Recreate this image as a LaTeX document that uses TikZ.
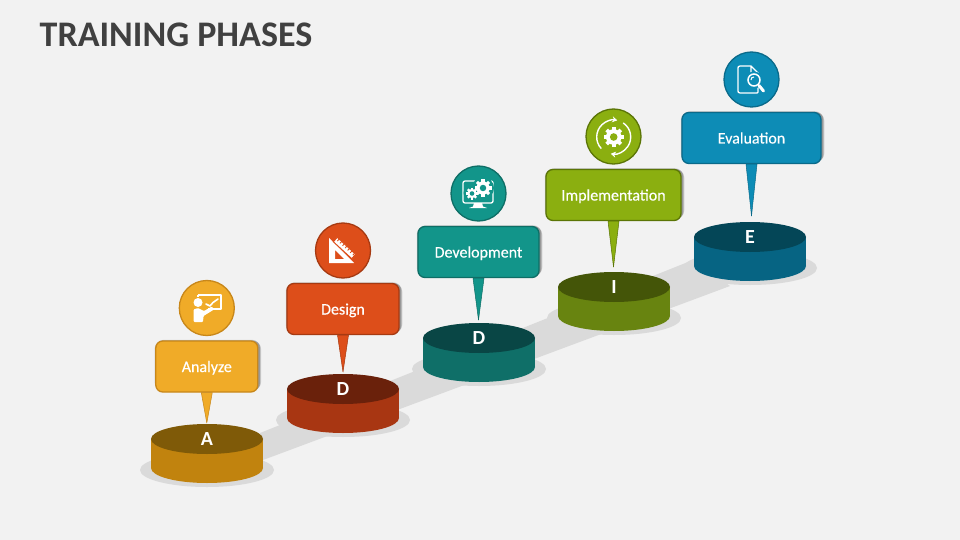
\documentclass[tikz,border=0pt]{standalone}
\usepackage{fontspec}
\setmainfont{Carlito}
\newfontfamily\boxfont[FakeBold=0.35]{Carlito}
\usetikzlibrary{shapes.geometric,arrows.meta,calc}
\definecolor{pagebg}{HTML}{F2F2F2}
\definecolor{bandgrey}{HTML}{DADADA}
\definecolor{titlegrey}{HTML}{404040}
\definecolor{Afill}{HTML}{F0AB28}\definecolor{Aedge}{HTML}{C8871A}\definecolor{Aside}{HTML}{C1830E}\definecolor{Atop}{HTML}{7F5A08}
\definecolor{Bfill}{HTML}{DD4E1A}\definecolor{Bedge}{HTML}{A63A12}\definecolor{Bside}{HTML}{A83612}\definecolor{Btop}{HTML}{6A210B}
\definecolor{Cfill}{HTML}{12958A}\definecolor{Cedge}{HTML}{0E6E66}\definecolor{Cside}{HTML}{0F6F68}\definecolor{Ctop}{HTML}{094645}
\definecolor{Dfill}{HTML}{8BAF10}\definecolor{Dedge}{HTML}{5B7506}\definecolor{Dside}{HTML}{688410}\definecolor{Dtop}{HTML}{445508}
\definecolor{Efill}{HTML}{0D8CB6}\definecolor{Eedge}{HTML}{0A6A8A}\definecolor{Eside}{HTML}{066483}\definecolor{Etop}{HTML}{044657}
\pgfdeclarelayer{under}\pgfdeclarelayer{pointer}
\pgfsetlayers{under,pointer,main}
\tikzset{
  titletext/.style={anchor=base west,inner sep=0pt,text=titlegrey,font=\fontsize{36}{36}\selectfont\bfseries},
  boxtext/.style={rounded corners=7pt,line width=1.3pt,text=white,font=\boxfont\fontsize{16}{16}\selectfont,inner sep=0pt,text height=11pt,text depth=0pt},
  disktop/.style={ellipse,inner sep=0pt,minimum width=112pt,minimum height=30pt,text=white,font=\fontsize{20}{20}\selectfont\bfseries,text height=12pt,text depth=0pt},
  iconring/.style={circle,inner sep=0pt,minimum size=55pt,line width=1.3pt},
  iconline/.style={draw=white,line width=1.3pt,line cap=round,line join=round}
}
% #1 key #2 letter #3 label #4 disk x #5 disk y #6 box x #7 box y #8 box width; \tipy = pointer tip y
\newcommand\phasestep[8]{%
  \begin{pgfonlayer}{under}
    \fill[bandgrey] (#4,#5+31) ellipse [x radius=67,y radius=17];
  \end{pgfonlayer}
  \fill[#1side] (#4,#5+29) ellipse [x radius=56,y radius=15];
  \fill[#1side] (#4-56,#5) rectangle (#4+56,#5+29);
  \node[disktop,fill=#1top] (disk#1) at (#4,#5) {#2};
  \coordinate (tip#1) at (#6,\tipy);
  \node[boxtext,draw=#1edge,fill=#1fill,minimum width=#8pt,minimum height=51pt] (box#1) at (#6,#7) {#3};
  \begin{pgfonlayer}{pointer}
    \foreach \g in {1.6,1,0.4}
      \fill[black,opacity=.14,rounded corners=8pt]
        ([shift={(1-\g,-1-\g)}]box#1.south west) rectangle ([shift={(1+\g,-1+\g)}]box#1.north east);
    \filldraw[fill=#1fill,draw=#1edge,line width=.5pt,line join=round]
      ([xshift=-5.5pt]box#1.south) -- (tip#1) -- ([xshift=5.5pt]box#1.south) -- cycle;
  \end{pgfonlayer}
  \node[iconring,draw=#1edge,fill=#1fill] (icon#1) at (#6,#7-58.5) {};
}
\newcommand\icongear[4]{%
  \foreach \a in {0,45,...,315}
    \draw[white,line width=#3*0.36pt] (#1,#2) -- ++(\a:#3);
  \fill[white] (#1,#2) circle [radius=#3*0.78];
  \fill[#4] (#1,#2) circle [radius=#3*0.38];
}
\begin{document}
\begin{tikzpicture}[x=1pt,y=-1pt]
\useasboundingbox (0,0) rectangle (960,540);
\begin{pgfonlayer}{under}
  \fill[pagebg] (0,0) rectangle (960,540);
  \fill[bandgrey] (260,433) -- (693,260) -- (730,286) -- (263,460) -- cycle;
\end{pgfonlayer}
\node[titletext] (title) at (39.5,46.5) {TRAINING PHASES};
\def\tipy{423}\phasestep{A}{A}{Analyze}{207}{439}{206.8}{366.5}{102}
\def\tipy{372}\phasestep{B}{D}{Design}{343}{389}{343}{309}{112}
\def\tipy{320}\phasestep{C}{D}{Development}{479}{338}{478.5}{252}{121}
\def\tipy{267}\phasestep{D}{I}{Implementation}{614}{287}{613.5}{195}{135}
\def\tipy{216}\phasestep{E}{E}{Evaluation}{750}{237}{751.5}{138}{139}
% Analyze icon
\draw[white,line width=1.1pt,line join=round] (198,295) -- (221,295) -- (221,309) -- (208,309);
\draw[white,line width=1.1pt] (198,295) -- (198,297);
\fill[white] (198,302.5) circle [radius=4.5];
\fill[white,rounded corners=1pt] (193.5,322) -- (193.5,309.5) -- (198,308) -- (204,311) -- (212,306.5) -- (214,309.5) -- (203.5,316) -- (203,322) -- cycle;
\draw[white,line width=1.6pt,line join=round,line cap=round] (206,304) -- (210,306) -- (213,302.5) -- (218,299);
% Design icon
\fill[white,even odd rule] (329,238) -- (329,263) -- (354,263) -- cycle (335,250) -- (335,259) -- (344,259) -- cycle;
\fill[white,draw=Bfill,line width=.9pt] (337.3,237.4) -- (355.6,254.3) -- (351.7,258.6) -- (333.3,241.7) -- cycle;
\foreach \t in {0.1,0.24,...,0.95}
  \draw[Bfill,line width=.9pt] ($(337.3,237.4)!\t!(355.6,254.3)$) -- ++(-1.7,1.9);
% Development icon
\draw[iconline,rounded corners=2pt] (463,181) rectangle (493,203);
\fill[white] (474,203) -- (482,203) -- (483,206.5) -- (487,208) -- (469,208) -- (473,206.5) -- cycle;
\fill[Cfill] (483,188) circle [radius=11];
\fill[Cfill] (472,193) circle [radius=8.5];
\icongear{483}{188}{8.5}{Cfill}
\icongear{472}{193.5}{6}{Cfill}
% Implementation icon
\icongear{613.7}{137}{10}{Dfill}
\begin{scope}[shift={(613.7,137)},y=1pt]
  \draw[white,line width=1.4pt,-{Stealth[length=5pt,width=6pt]}] (223:17pt) arc [start angle=223,end angle=78,radius=17pt];
  \draw[white,line width=1.4pt,-{Stealth[length=5pt,width=6pt]}] (56:17pt) arc [start angle=56,end angle=-100,radius=17pt];
\end{scope}
% Evaluation icon
\draw[iconline] (751,66) -- (740,66) .. controls (738.5,66) and (738,67) .. (738,68) -- (738,91) .. controls (738,92) and (738.5,93) .. (740,93) -- (757,93) .. controls (758,93) and (758,92) .. (758,91) -- (758,73) -- (751,66) -- (751,73) -- (758,73);
\fill[Efill] (754,80) circle [radius=8.5];
\draw[white,line width=1.5pt] (754,80) circle [radius=6];
\draw[white,line width=1pt] (751,80) .. controls (751,78) and (752,77) .. (754,77);
\draw[white,line width=3pt,line cap=round] (759,85.5) -- (763.5,91);
\end{tikzpicture}
\end{document}
